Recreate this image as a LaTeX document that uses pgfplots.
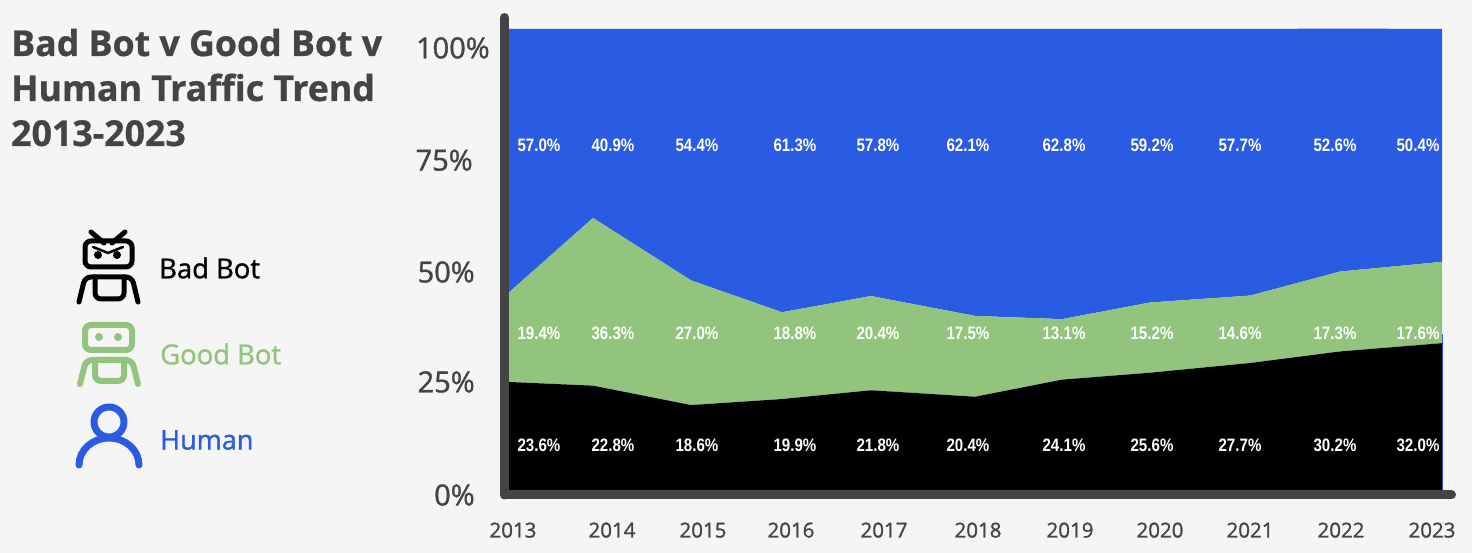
\documentclass[border=0pt]{standalone}
\usepackage{fontspec}
\usepackage{pgfplots}
\usepackage{pgfplotstable}
\pgfplotsset{compat=1.18}
\setmainfont{Open Sans}
\newfontfamily\medfont[FakeBold=1.2]{Open Sans}
\newfontfamily\titlefont[BoldFont={Open Sans Bold},BoldFeatures={FakeBold=0.8}]{Open Sans}
\newfontfamily\labfont[FakeStretch=0.84]{Liberation Sans}
\definecolor{bgc}{HTML}{F5F5F5}
\definecolor{axc}{HTML}{444444}
\definecolor{humanc}{HTML}{2A5BE3}
\definecolor{goodc}{HTML}{92C47D}

% x is the pixel position of each year's vertex, values are the printed shares
\pgfplotstableread{
x bad good human
509 23.6 19.4 57.0
593 22.8 36.3 40.9
691 18.6 27.0 54.4
782 19.9 18.8 61.3
871 21.8 20.4 57.8
975 20.4 17.5 62.1
1062 24.1 13.1 62.8
1150 25.6 15.2 59.2
1250 27.7 14.6 57.7
1340 30.2 17.3 52.6
1442 32.0 17.6 50.4
}\sharetable

\pgfplotstableread{
x yb yg yh b g h
539 9.96 34.2 74.9 23.6\% 19.4\% 57.0\%
613 9.96 34.2 74.9 22.8\% 36.3\% 40.9\%
697 9.96 34.2 74.9 18.6\% 27.0\% 54.4\%
795 9.96 34.2 74.9 19.9\% 18.8\% 61.3\%
878 9.96 34.2 74.9 21.8\% 20.4\% 57.8\%
968 9.96 34.2 74.9 20.4\% 17.5\% 62.1\%
1064 9.96 34.2 74.9 24.1\% 13.1\% 62.8\%
1152 9.96 34.2 74.9 25.6\% 15.2\% 59.2\%
1240 9.96 34.2 74.9 27.7\% 14.6\% 57.7\%
1335 9.96 34.2 74.9 30.2\% 17.3\% 52.6\%
1418 9.96 34.2 74.9 32.0\% 17.6\% 50.4\%
}\labeltable

\begin{document}
\begin{tikzpicture}
	\useasboundingbox (0,0) rectangle (1472pt,553pt);
	\fill[bgc] (0,0) rectangle (1472pt,553pt);

	\begin{axis}[
		at={(504.5pt,58pt)}, anchor=south west,
		scale only axis,
		width=947pt, height=477.5pt,
		xmin=504.5, xmax=1451.5,
		ymin=-0.866, ymax=102.49,
		axis lines=left,
		axis on top,
		axis line style={-, line width=9pt, line cap=round, draw=axc},
		tick style={draw=none},
		stack plots=y,
		xtick={513,612,703,791,884,978,1070,1160,1250,1341,1432},
		xticklabels={2013,2014,2015,2016,2017,2018,2019,2020,2021,2022,2023},
		xticklabel style={font=\fontsize{20.5}{20.5}\medfont, text=axc, anchor=center, yshift=-33pt, inner sep=0pt},
		ytick={-0.866,23.6,47.4,71.6,95.9},
		yticklabels={0\%\hspace*{15pt},25\%\hspace*{15pt},50\%\hspace*{15pt},75\%\hspace*{17pt},100\%},
		yticklabel style={font=\fontsize{29}{29}\medfont, text=axc, anchor=east, xshift=-12.5pt, inner sep=0pt},
		every node near coord/.style={font=\fontsize{18}{18}\labfont\bfseries, text=white, anchor=center, inner sep=0pt},
		]
		\addplot[fill=black, draw=none] table[x=x, y=bad] {\sharetable} \closedcycle;
		\addplot[fill=goodc, draw=none] table[x=x, y=good] {\sharetable} \closedcycle;
		\addplot[fill=humanc, draw=none] table[x=x, y=human] {\sharetable} \closedcycle;
		% thin blue edge at the right end
		\addplot[stack plots=false, humanc, line width=1pt] coordinates {(1442,0) (1442,34)};
		% data labels
		\addplot[stack plots=false, draw=none, mark=none, nodes near coords, point meta=explicit symbolic]
			table[x=x, y=yb, meta=b] {\labeltable};
		\addplot[stack plots=false, draw=none, mark=none, nodes near coords, point meta=explicit symbolic]
			table[x=x, y=yg, meta=g] {\labeltable};
		\addplot[stack plots=false, draw=none, mark=none, nodes near coords, point meta=explicit symbolic]
			table[x=x, y=yh, meta=h] {\labeltable};
	\end{axis}

	\begin{scope}[x=1pt, y=-1pt, yshift=553pt, line cap=round, line join=round]
		% title
		\node[anchor=base west, inner sep=0pt, text=axc, font=\fontsize{35.7}{36}\titlefont\bfseries] at (11,56) {Bad Bot v Good Bot v};
		\node[anchor=base west, inner sep=0pt, text=axc, font=\fontsize{35.7}{36}\titlefont\bfseries] at (11,101) {Human Traffic Trend};
		\node[anchor=base west, inner sep=0pt, text=axc, font=\fontsize{35.7}{36}\titlefont\bfseries] at (11,146) {2013-2023};
		% legend text
		\node[anchor=west, inner sep=0pt, text=black, font=\fontsize{27.4}{27.4}\medfont] at (159,268) {Bad Bot};
		\node[anchor=west, inner sep=0pt, text=goodc, font=\fontsize{27.4}{27.4}\medfont] at (160,354) {Good Bot};
		\node[anchor=west, inner sep=0pt, text=humanc, font=\fontsize{27}{27}\medfont] at (160,440) {Human};
		% bad bot icon
		\begin{scope}[draw=black, line width=5pt]
			\draw[rounded corners=6pt] (85,241) rectangle (132,267);
			\draw (91,232) -- (104,243);
			\draw (125,232) -- (112,243);
			\draw[line width=2.5pt] (93,247) -- (108,253) -- (123,247);
			\fill (98,255) circle (4);
			\fill (117,255) circle (4);
			\draw[rounded corners=6pt] (79,302) -- (85,277) -- (132,277) -- (138,302);
			\draw[rounded corners=6pt] (95,277) -- (95,299) -- (124,299) -- (124,277);
		\end{scope}
		% good bot icon
		\begin{scope}[draw=goodc, fill=goodc, line width=6pt]
			\draw[rounded corners=6pt] (85,325) rectangle (132,350);
			\fill (99,337) circle (4);
			\fill (118,337) circle (4);
			\draw[rounded corners=6pt] (80,384) -- (86,360) -- (132,360) -- (138,384);
			\draw[rounded corners=6pt] (95,360) -- (95,381) -- (124,381) -- (124,360);
		\end{scope}
		% human icon
		\begin{scope}[draw=humanc, line width=7pt]
			\draw (109,422) circle (15);
			\draw (79,465) arc[start angle=180, end angle=360, x radius=30, y radius=27];
		\end{scope}
	\end{scope}
\end{tikzpicture}
\end{document}
